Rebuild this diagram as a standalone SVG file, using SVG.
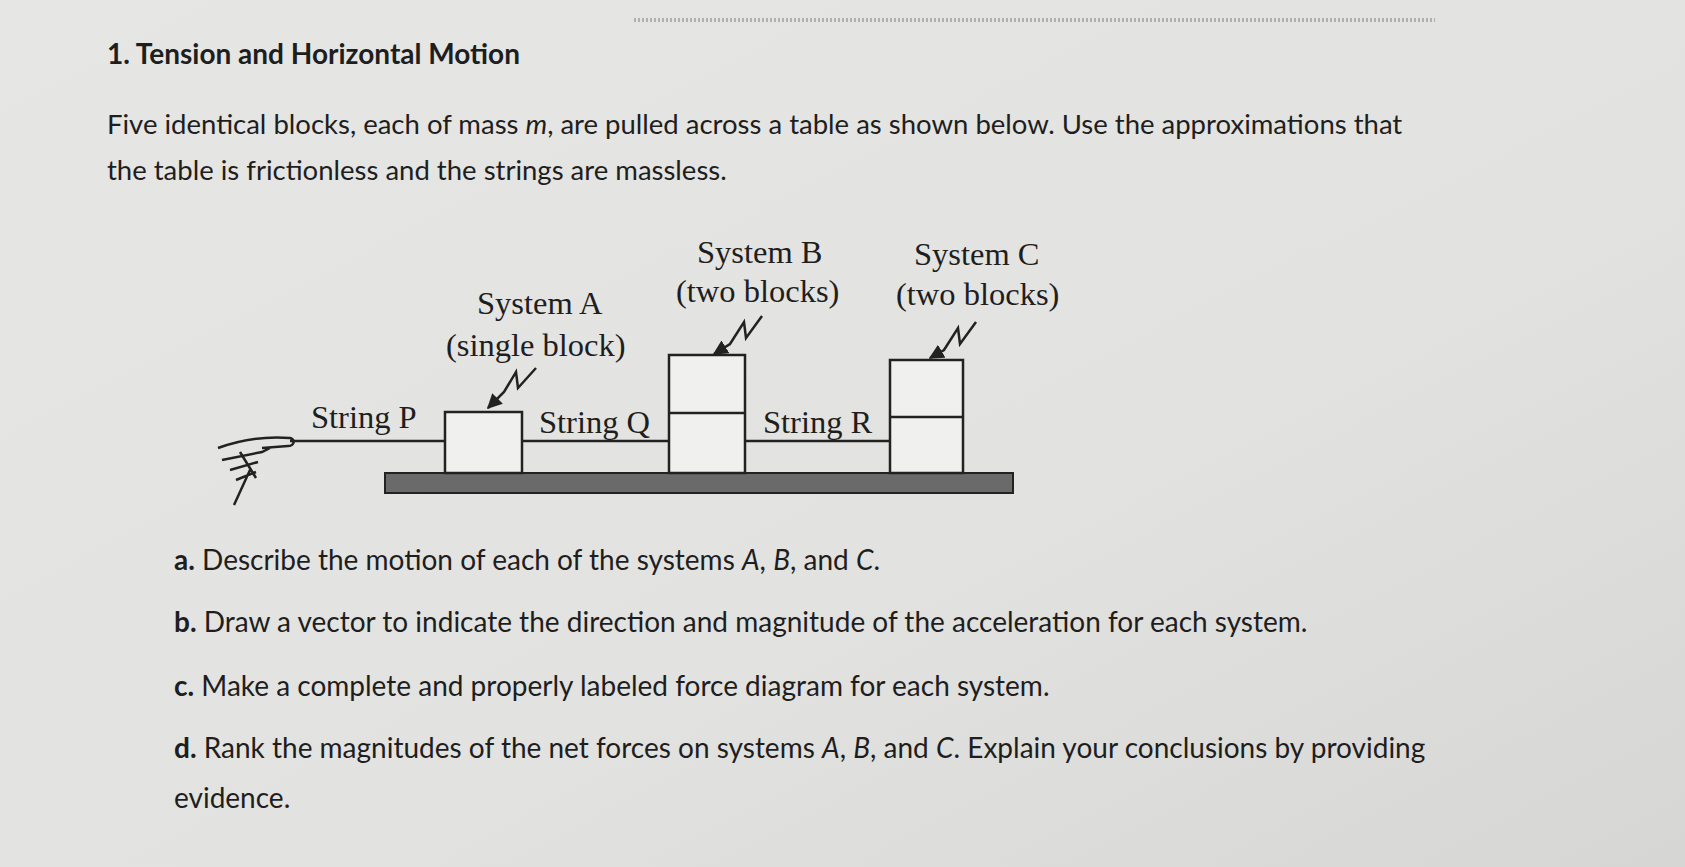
<svg xmlns="http://www.w3.org/2000/svg" width="1685" height="867" viewBox="0 0 1685 867">
<defs>
<linearGradient id="bg" x1="0" y1="0" x2="1" y2="1">
<stop offset="0" stop-color="#e6e6e4"/><stop offset="0.6" stop-color="#e2e2e0"/><stop offset="1" stop-color="#d6d6d4"/>
</linearGradient>
<marker id="ah" viewBox="0 0 10 10" refX="9" refY="5" markerWidth="6" markerHeight="6" orient="auto"><path d="M0,0 L10,5 L0,10 z" fill="#222"/></marker>
</defs>
<style>
.t{font-family:"Lato","Liberation Sans",sans-serif;fill:#1e1e1e}
.s{font-family:"Liberation Serif",serif;font-size:32.5px;fill:#1e1e1e}
.blk{fill:#f0f0ee;stroke:#222;stroke-width:2.5}
.ln{stroke:#222;stroke-width:2.5;fill:none}
</style>
<rect width="1685" height="867" fill="url(#bg)"/>
<line x1="634" y1="20" x2="1435" y2="20" stroke="#b0b0b0" stroke-width="4" stroke-dasharray="2,2"/>
<g id="text">
<text class="t" x="107" y="64" font-size="28" font-weight="bold">1. Tension and Horizontal Motion</text>
<text class="t" x="107" y="134" font-size="27.5">Five identical blocks, each of mass <tspan font-style="italic">m</tspan>, are pulled across a table as shown below.  Use the approximations that</text>
<text class="t" x="107" y="180" font-size="27.5">the table is frictionless and the strings are massless.</text>
<text class="t" x="174" y="570" font-size="28"><tspan font-weight="bold">a.</tspan> Describe the motion of each of the systems <tspan font-style="italic">A</tspan>, <tspan font-style="italic">B</tspan>, and <tspan font-style="italic">C</tspan>.</text>
<text class="t" x="174" y="632" font-size="28"><tspan font-weight="bold">b.</tspan> Draw a vector to indicate the direction and magnitude of the acceleration for each system.</text>
<text class="t" x="174" y="696" font-size="28"><tspan font-weight="bold">c.</tspan> Make a complete and properly labeled force diagram for each system.</text>
<text class="t" x="174" y="758" font-size="28"><tspan font-weight="bold">d.</tspan> Rank the magnitudes of the net forces on systems <tspan font-style="italic">A</tspan>, <tspan font-style="italic">B</tspan>, and <tspan font-style="italic">C</tspan>. Explain your conclusions by providing</text>
<text class="t" x="174" y="808" font-size="28">evidence.</text>
</g>
<g id="table"><rect x="385" y="473" width="628" height="20" fill="#6a6a6a" stroke="#222" stroke-width="2"/></g>
<g id="connectors">
<line class="ln" x1="290" y1="441" x2="445" y2="441"/>
<line class="ln" x1="522" y1="441" x2="669" y2="441"/>
<line class="ln" x1="745" y1="441" x2="890" y2="441"/>
</g>
<g id="hand"><path class="ln" d="M218,448 C240,440 265,436 290,438 C296,440 294,446 288,446 L262,448 M222,460 L262,452 L270,448 M230,470 L258,462 M236,480 L256,472 M250,470 L234,505 M240,452 L256,478"/></g>
<g id="blockA"><rect class="blk" x="445" y="412" width="77" height="61"/></g>
<g id="blockB"><rect class="blk" x="669" y="355" width="76" height="118"/><line class="ln" x1="669" y1="413" x2="745" y2="413"/></g>
<g id="blockC"><rect class="blk" x="890" y="360" width="73" height="113"/><line class="ln" x1="890" y1="417" x2="963" y2="417"/></g>
<g id="labels">
<text class="s" x="311" y="428">String P</text>
<text class="s" x="539" y="433">String Q</text>
<text class="s" x="763" y="433">String R</text>
<text class="s" x="477" y="314">System A</text>
<text class="s" x="446" y="356">(single block)</text>
<text class="s" x="697" y="263">System B</text>
<text class="s" x="676" y="302">(two blocks)</text>
<text class="s" x="914" y="265">System C</text>
<text class="s" x="896" y="305">(two blocks)</text>
</g>
<g id="arrows">
<path class="ln" stroke-width="2" marker-end="url(#ah)" d="M536,368 L518,388 L516,372 L504,392 L488,408"/>
<path class="ln" stroke-width="2" marker-end="url(#ah)" d="M762,316 L746,338 L744,322 L730,344 L714,354"/>
<path class="ln" stroke-width="2" marker-end="url(#ah)" d="M976,322 L960,344 L958,328 L944,350 L930,358"/>
</g>
</svg>
